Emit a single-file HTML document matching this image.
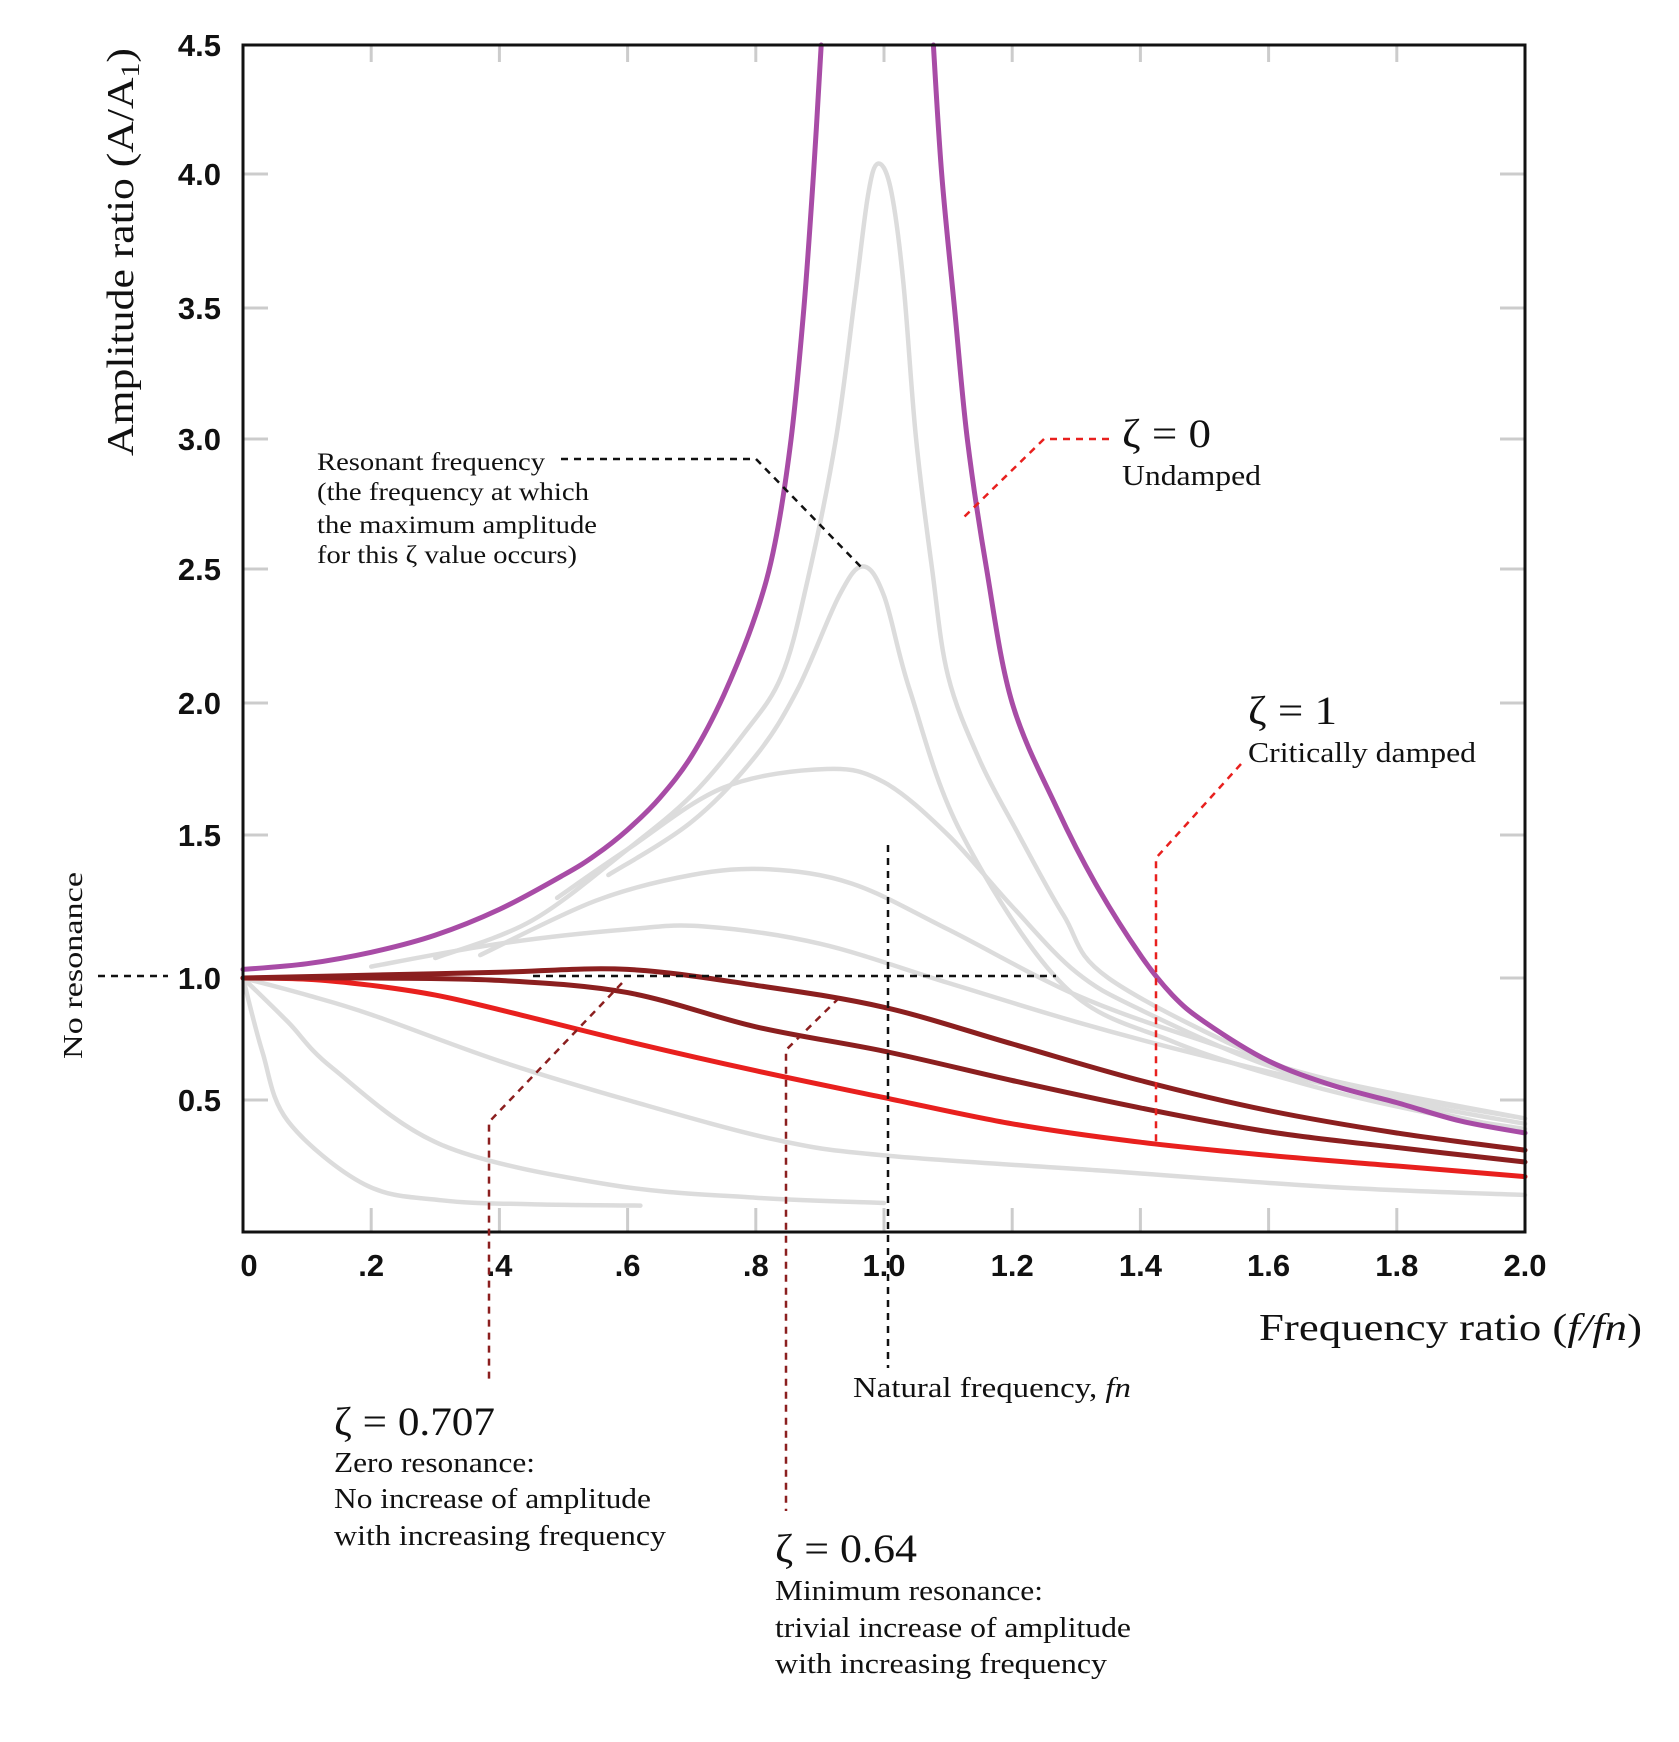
<!DOCTYPE html>
<html><head><meta charset="utf-8"><style>
html,body{margin:0;padding:0;background:#fff;}
svg{display:block;}
.serif{font-family:"Liberation Serif","DejaVu Serif",serif;fill:#111;}
.tick{font-family:"Liberation Sans","DejaVu Sans",sans-serif;font-weight:bold;fill:#111;font-size:31px;}
</style></head><body>
<svg id="chart" width="1679" height="1742" viewBox="0 0 1679 1742" xmlns="http://www.w3.org/2000/svg">
<g id="grid"></g>
<g id="grays"></g>
<g id="main"></g>
<rect x="243" y="45" width="1282" height="1187" fill="none" stroke="#111" stroke-width="3"/>
<g id="labels"></g>
<g fill="none" stroke-width="2.5" stroke-dasharray="7,6">
<polyline points="98,976 168,976" stroke="#111"/>
<polyline points="533,976 1056,976" stroke="#111"/>
<polyline points="888,845 888,1368" stroke="#111"/>
<polyline points="561,459 756,459 861,567" stroke="#111"/>
<polyline points="1109,439 1044,439 962,519" stroke="#e8201e"/>
<polyline points="1241,764 1156,858 1156,1144" stroke="#e8201e"/>
<polyline points="622,983 489,1122 489,1383" stroke="#8b1f1f"/>
<polyline points="839,998 786,1050 786,1511" stroke="#8b1f1f"/>
</g>
<text class="serif" transform="translate(133,456) rotate(-90)" font-size="38" textLength="408" lengthAdjust="spacingAndGlyphs">Amplitude ratio (A/A<tspan font-size="26" dy="6">1</tspan><tspan dy="-6">)</tspan></text>
<text class="serif" transform="translate(82,1059) rotate(-90)" font-size="27" textLength="187" lengthAdjust="spacingAndGlyphs">No resonance</text>
<text class="serif" x="1259" y="1340" font-size="38" textLength="383" lengthAdjust="spacingAndGlyphs">Frequency ratio (<tspan font-style="italic">f/fn</tspan>)</text>
<text class="serif" x="853" y="1397" font-size="28" textLength="278" lengthAdjust="spacingAndGlyphs">Natural frequency, <tspan font-style="italic">fn</tspan></text>
<g class="serif" font-size="25">
<text x="317" y="470" textLength="228" lengthAdjust="spacingAndGlyphs">Resonant frequency</text>
<text x="317" y="500" textLength="272" lengthAdjust="spacingAndGlyphs">(the frequency at which</text>
<text x="317" y="533" textLength="280" lengthAdjust="spacingAndGlyphs">the maximum amplitude</text>
<text x="317" y="563" textLength="260" lengthAdjust="spacingAndGlyphs">for this ζ value occurs)</text>
</g>
<g class="serif">
<text x="1122" y="447" font-size="40" textLength="89" lengthAdjust="spacingAndGlyphs">ζ = 0</text>
<text x="1122" y="485" font-size="28" textLength="139" lengthAdjust="spacingAndGlyphs">Undamped</text>
</g>
<g class="serif">
<text x="1248" y="724" font-size="40" textLength="89" lengthAdjust="spacingAndGlyphs">ζ = 1</text>
<text x="1248" y="762" font-size="28" textLength="228" lengthAdjust="spacingAndGlyphs">Critically damped</text>
</g>
<g class="serif">
<text x="334" y="1435" font-size="40" textLength="161" lengthAdjust="spacingAndGlyphs">ζ = 0.707</text>
<text x="334" y="1472" font-size="28" textLength="201" lengthAdjust="spacingAndGlyphs">Zero resonance:</text>
<text x="334" y="1508" font-size="28" textLength="317" lengthAdjust="spacingAndGlyphs">No increase of amplitude</text>
<text x="334" y="1545" font-size="28" textLength="332" lengthAdjust="spacingAndGlyphs">with increasing frequency</text>
</g>
<g class="serif">
<text x="775" y="1562" font-size="40" textLength="142" lengthAdjust="spacingAndGlyphs">ζ = 0.64</text>
<text x="775" y="1600" font-size="28" textLength="268" lengthAdjust="spacingAndGlyphs">Minimum resonance:</text>
<text x="775" y="1637" font-size="28" textLength="356" lengthAdjust="spacingAndGlyphs">trivial increase of amplitude</text>
<text x="775" y="1673" font-size="28" textLength="332" lengthAdjust="spacingAndGlyphs">with increasing frequency</text>
</g>
</svg>
<script>
const xTicks = [0,0.2,0.4,0.6,0.8,1.0,1.2,1.4,1.6,1.8,2.0];
const xTickLabels = ["0",".2",".4",".6",".8","1.0","1.2","1.4","1.6","1.8","2.0"];
const yTicks = [0,0.5,1.0,1.5,2.0,2.5,3.0,3.5,4.0,4.5];
const yTickLabels = ["","0.5","1.0","1.5","2.0","2.5","3.0","3.5","4.0","4.5"];

// zeta = 0 (undamped), two branches
const zeta0LeftX = [0,0.1,0.2,0.3,0.4,0.5,0.55,0.6,0.65,0.7,0.75,0.8,0.83,0.855,0.875,0.89,0.902];
const zeta0LeftY = [1.03,1.05,1.09,1.15,1.24,1.36,1.43,1.52,1.64,1.8,2.03,2.33,2.6,3.0,3.5,4.0,4.5];
const zeta0RightX = [1.077,1.09,1.11,1.13,1.16,1.2,1.27,1.33,1.4,1.45,1.5,1.6,1.7,1.8,1.9,2.0];
const zeta0RightY = [4.5,4.0,3.5,3.0,2.5,2.0,1.6,1.33,1.08,0.93,0.82,0.66,0.56,0.49,0.42,0.375];
// zeta = 1 critically damped
const zeta1X = [0,0.1,0.2,0.3,0.4,0.6,0.8,1.0,1.2,1.4,1.6,1.8,2.0];
const zeta1Y = [1.0,0.995,0.97,0.93,0.87,0.74,0.62,0.51,0.41,0.34,0.29,0.25,0.21];
// zeta = 0.707
const zeta707X = [0,0.2,0.4,0.6,0.8,1.0,1.2,1.4,1.6,1.8,2.0];
const zeta707Y = [1.0,1.0,0.99,0.94,0.80,0.70,0.58,0.47,0.38,0.32,0.265];
// zeta = 0.64
const zeta64X = [0,0.2,0.4,0.6,0.8,1.0,1.2,1.4,1.6,1.8,2.0];
const zeta64Y = [1.0,1.01,1.02,1.03,0.97,0.88,0.73,0.58,0.46,0.375,0.31];

// gray curves
const g1X = [0.3,0.45,0.6,0.7,0.78,0.84,0.88,0.925,0.955,0.975,0.99,1.01,1.03,1.05,1.075,1.1,1.15,1.206,1.28,1.35,1.6,1.8,2.0];
const g1Y = [1.07,1.2,1.45,1.65,1.88,2.1,2.45,3.0,3.55,3.92,4.04,3.95,3.6,3.0,2.5,2.1,1.78,1.52,1.22,1.0,0.66,0.49,0.38];
const g2X = [0.57,0.7,0.8,0.865,0.93,0.967,1.0,1.04,1.12,1.28,1.45,1.65,1.85,2.0];
const g2Y = [1.36,1.55,1.8,2.05,2.4,2.51,2.4,2.05,1.51,0.97,0.74,0.57,0.45,0.39];
const g3X = [0.49,0.6,0.75,0.91,1.0,1.1,1.2,1.3,1.4,1.6,1.8,2.0];
const g3Y = [1.28,1.45,1.68,1.75,1.7,1.5,1.25,1.02,0.87,0.64,0.5,0.41];
const g4X = [0.37,0.55,0.7,0.82,0.95,1.1,1.3,1.5,1.7,2.0];
const g4Y = [1.08,1.27,1.36,1.38,1.33,1.17,0.93,0.74,0.58,0.43];
const g5X = [0.2,0.4,0.6,0.72,0.9,1.1,1.3,1.5,1.7,2.0];
const g5Y = [1.04,1.12,1.17,1.18,1.12,0.98,0.82,0.68,0.56,0.43];
const l1X = [0,0.1,0.2,0.4,0.6,0.83,1.0,1.354,1.7,2.0];
const l1Y = [1.0,0.93,0.85,0.66,0.5,0.35,0.29,0.23,0.17,0.14];
const l2X = [0,0.07,0.14,0.31,0.57,0.8,1.0];
const l2Y = [1.0,0.82,0.63,0.33,0.18,0.13,0.11];
const l3X = [0,0.03,0.07,0.19,0.31,0.45,0.62];
const l3Y = [1.0,0.7,0.42,0.18,0.12,0.105,0.10];

const NS='http://www.w3.org/2000/svg';
const X0=243, X1=1525;
const yPix=[1232,1100,978,835,703,569,439,308,174,45];
function sx(v){return X0+(X1-X0)*v/2;}
function sy(v){
  if(v<=0) return yPix[0]+(yPix[1]-yPix[0])*(v/0.5);
  let i=Math.min(Math.floor(v/0.5),yPix.length-2);
  let t=(v-i*0.5)/0.5;
  return yPix[i]+(yPix[i+1]-yPix[i])*t;
}
function pathFrom(xs,ys){
  const p=xs.map((x,i)=>[sx(x),sy(ys[i])]);
  let d='M'+p[0][0].toFixed(1)+','+p[0][1].toFixed(1);
  for(let i=0;i<p.length-1;i++){
    const a=p[i-1]||p[i], b=p[i], c=p[i+1], e=p[i+2]||c;
    const c1=[b[0]+(c[0]-a[0])/6,b[1]+(c[1]-a[1])/6];
    const c2=[c[0]-(e[0]-b[0])/6,c[1]-(e[1]-b[1])/6];
    d+='C'+c1[0].toFixed(1)+','+c1[1].toFixed(1)+' '+c2[0].toFixed(1)+','+c2[1].toFixed(1)+' '+c[0].toFixed(1)+','+c[1].toFixed(1);
  }
  return d;
}
function addPath(g,xs,ys,color,w,name){
  const el=document.createElementNS(NS,'path');
  el.setAttribute('d',pathFrom(xs,ys));
  el.setAttribute('fill','none');
  el.setAttribute('stroke',color);
  el.setAttribute('stroke-width',w);
  el.setAttribute('stroke-linecap','round');
  el.setAttribute('stroke-linejoin','round');
  
  
  g.appendChild(el);
}
const grays=document.getElementById('grays');
const gc='#dcdcdc';
[[g1X,g1Y,'gray-curve-1'],[g2X,g2Y,'gray-curve-2'],[g3X,g3Y,'gray-curve-3'],[g4X,g4Y,'gray-curve-4'],[g5X,g5Y,'gray-curve-5'],[l1X,l1Y,'gray-curve-6'],[l2X,l2Y,'gray-curve-7'],[l3X,l3Y,'gray-curve-8']].forEach(s=>addPath(grays,s[0],s[1],gc,4.5,s[2]));
const main=document.getElementById('main');
addPath(main,zeta1X,zeta1Y,'#e8201e',5,'zeta-1-curve');
addPath(main,zeta707X,zeta707Y,'#8b1f1f',5,'zeta-0707-curve');
addPath(main,zeta64X,zeta64Y,'#8b1f1f',5,'zeta-064-curve');
addPath(main,zeta0LeftX,zeta0LeftY,'#a84ca6',5,'zeta-0-curve-left');
addPath(main,zeta0RightX,zeta0RightY,'#a84ca6',5,'zeta-0-curve-right');

const grid=document.getElementById('grid');
const labels=document.getElementById('labels');
xTicks.forEach((v,i)=>{
  const x=sx(v);
  const t=document.createElementNS(NS,'line');
  t.setAttribute('x1',x);t.setAttribute('x2',x);t.setAttribute('y1',45);t.setAttribute('y2',62);
  t.setAttribute('stroke','#ccc');t.setAttribute('stroke-width',3);
  
  
  grid.appendChild(t);
  const b=document.createElementNS(NS,'line');
  b.setAttribute('x1',x);b.setAttribute('x2',x);b.setAttribute('y1',1208);b.setAttribute('y2',1232);
  b.setAttribute('stroke','#ccc');b.setAttribute('stroke-width',3);
  
  
  grid.appendChild(b);
  const tx=document.createElementNS(NS,'text');
  tx.setAttribute('x',x+(i==0?6:0));tx.setAttribute('y',1276);
  tx.setAttribute('text-anchor','middle');tx.setAttribute('class','tick');
  tx.textContent=xTickLabels[i];
  
  
  labels.appendChild(tx);
});
yTicks.forEach((v,i)=>{
  const y=sy(v);
  const l=document.createElementNS(NS,'line');
  l.setAttribute('x1',243);l.setAttribute('x2',268);l.setAttribute('y1',y);l.setAttribute('y2',y);
  l.setAttribute('stroke','#ccc');l.setAttribute('stroke-width',3);
  
  
  grid.appendChild(l);
  const r=document.createElementNS(NS,'line');
  r.setAttribute('x1',1500);r.setAttribute('x2',1525);r.setAttribute('y1',y);r.setAttribute('y2',y);
  r.setAttribute('stroke','#ccc');r.setAttribute('stroke-width',3);
  
  
  grid.appendChild(r);
  if(yTickLabels[i]){
    const tx=document.createElementNS(NS,'text');
    tx.setAttribute('x',221);tx.setAttribute('y',y+11);
    tx.setAttribute('text-anchor','end');tx.setAttribute('class','tick');
    tx.textContent=yTickLabels[i];
    
    
    labels.appendChild(tx);
  }
});
</script>
</body></html>
